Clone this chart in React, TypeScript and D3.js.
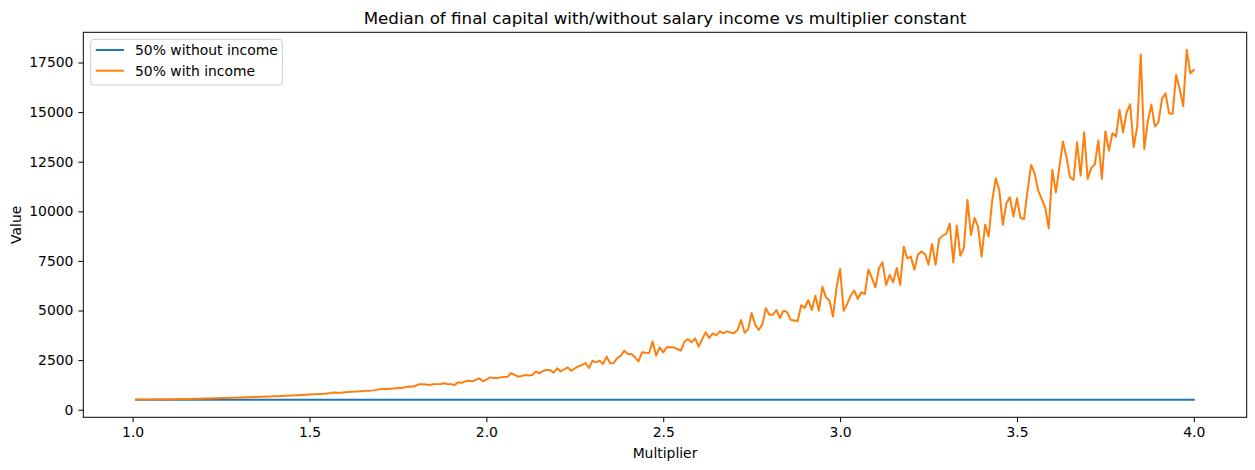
import * as d3 from "d3";
import { useEffect, useRef } from "react";

// x grid: multiplier constant 1.01 .. 4.00 in steps of 0.01
const multipliers = d3.range(101, 401).map((v) => v / 100);

// median final capital, with salary income
const withIncome = [
  510, 512, 515, 514, 518, 520, 522, 521, 525, 528,
  530, 533, 536, 538, 541, 545, 548, 552, 556, 560,
  565, 570, 574, 580, 586, 590, 596, 601, 607, 613,
  620, 626, 632, 640, 645, 652, 658, 662, 668, 676,
  684, 692, 700, 708, 716, 724, 734, 744, 756, 766,
  776, 786, 798, 806, 818, 840, 870, 850, 860, 880,
  890, 900, 912, 926, 935, 950, 960, 975, 1000, 1040,
  1040, 1045, 1060, 1075, 1090, 1100, 1130, 1165, 1160, 1210,
  1290, 1280, 1270, 1250, 1280, 1290, 1300, 1330, 1300, 1290,
  1245, 1380, 1350, 1430, 1460, 1430, 1500, 1580, 1430, 1520,
  1630, 1600, 1600, 1630, 1650, 1664, 1849, 1760, 1664, 1700,
  1748, 1720, 1748, 1933, 1832, 1950, 2000, 2000, 1866, 2084,
  1933, 2030, 2135, 1967, 2080, 2185, 2250, 2353, 2101, 2471,
  2390, 2471, 2303, 2673, 2336, 2350, 2605, 2720, 2975, 2810,
  2807, 2640, 2437, 2891, 2870, 2857, 3442, 2723, 3143, 2891,
  3143, 3143, 3143, 3060, 2975, 3429, 3564, 3395, 3597, 3177,
  3550, 3899, 3614, 3850, 3748, 3950, 3850, 3950, 3900, 3850,
  4017, 4522, 3883, 4051, 4875, 4287, 4017, 4287, 5110, 4791,
  4791, 5026, 4623, 4993, 4926, 4538, 4500, 4455, 5261, 5127,
  5530, 5026, 5749, 4993, 6203, 5665, 5497, 4690, 6170, 7096,
  4993, 5330, 5749, 6001, 5581, 5917, 5833, 7060, 6640, 6170,
  7144, 7430, 6288, 6792, 6421, 7144, 6288, 8220, 7631, 7716,
  7060, 7817, 7968, 7850, 7312, 8354, 7312, 8606, 8775, 8859,
  9380, 7430, 9279, 7766, 8153, 10575, 8808, 9665, 9229, 7716,
  9330, 8724, 10540, 11664, 11076, 9314, 10406, 10708, 9733, 10658,
  9665, 9615, 11044, 12340, 11917, 11044, 10624, 10171, 9145, 12088,
  10960, 12240, 13515, 12723, 11715, 11580, 13481, 11800, 13985, 11631,
  12189, 12355, 13565, 11631, 14035, 13061, 13935, 13767, 15114, 13985,
  14993, 15400, 13228, 14272, 17903, 13145, 14540, 15381, 14272, 14490,
  15669, 15951, 14943, 14909, 16879, 16174, 15297, 18141, 16963, 17130,
];

// median final capital, without income (flat at the starting capital)
const withoutIncome = [
  500, 500, 500, 500, 500, 500, 500, 500, 500, 500,
  500, 500, 500, 500, 500, 500, 500, 500, 500, 500,
  500, 500, 500, 500, 500, 500, 500, 500, 500, 500,
  500, 500, 500, 500, 500, 500, 500, 500, 500, 500,
  500, 500, 500, 500, 500, 500, 500, 500, 500, 500,
  500, 500, 500, 500, 500, 500, 500, 500, 500, 500,
  500, 500, 500, 500, 500, 500, 500, 500, 500, 500,
  500, 500, 500, 500, 500, 500, 500, 500, 500, 500,
  500, 500, 500, 500, 500, 500, 500, 500, 500, 500,
  500, 500, 500, 500, 500, 500, 500, 500, 500, 500,
  500, 500, 500, 500, 500, 500, 500, 500, 500, 500,
  500, 500, 500, 500, 500, 500, 500, 500, 500, 500,
  500, 500, 500, 500, 500, 500, 500, 500, 500, 500,
  500, 500, 500, 500, 500, 500, 500, 500, 500, 500,
  500, 500, 500, 500, 500, 500, 500, 500, 500, 500,
  500, 500, 500, 500, 500, 500, 500, 500, 500, 500,
  500, 500, 500, 500, 500, 500, 500, 500, 500, 500,
  500, 500, 500, 500, 500, 500, 500, 500, 500, 500,
  500, 500, 500, 500, 500, 500, 500, 500, 500, 500,
  500, 500, 500, 500, 500, 500, 500, 500, 500, 500,
  500, 500, 500, 500, 500, 500, 500, 500, 500, 500,
  500, 500, 500, 500, 500, 500, 500, 500, 500, 500,
  500, 500, 500, 500, 500, 500, 500, 500, 500, 500,
  500, 500, 500, 500, 500, 500, 500, 500, 500, 500,
  500, 500, 500, 500, 500, 500, 500, 500, 500, 500,
  500, 500, 500, 500, 500, 500, 500, 500, 500, 500,
  500, 500, 500, 500, 500, 500, 500, 500, 500, 500,
  500, 500, 500, 500, 500, 500, 500, 500, 500, 500,
  500, 500, 500, 500, 500, 500, 500, 500, 500, 500,
  500, 500, 500, 500, 500, 500, 500, 500, 500, 500,
];

const xTicks = [1.0, 1.5, 2.0, 2.5, 3.0, 3.5, 4.0];
const yTicks = [0, 2500, 5000, 7500, 10000, 12500, 15000, 17500];
const labels = ["50% without income", "50% with income"];
const colors = ["#1f77b4", "#ff7f0e"];

const title =
  "Median of final capital with/without salary income vs multiplier constant";

const W = 1255;
const H = 470;
const FONT = "'DejaVu Sans', sans-serif";
const FS = 13.9; // 10pt at 100dpi
const TITLE_FS = 16.7; // 12pt

export default function App() {
  const ref = useRef<SVGSVGElement>(null);

  useEffect(() => {
    document.body.style.margin = "0";

    const margin = { top: 32.3, right: W - 1246.7, bottom: H - 417.3, left: 83.3 };
    const width = W - margin.left - margin.right;
    const height = H - margin.top - margin.bottom;

    // matplotlib-like 5% padding around the data
    const [x0, x1] = d3.extent(multipliers) as [number, number];
    const xPad = (x1 - x0) * 0.05;
    const [y0, y1] = d3.extent([...withIncome, ...withoutIncome]) as [number, number];
    const yPad = (y1 - y0) * 0.05;

    const xScale = d3.scaleLinear().domain([x0 - xPad, x1 + xPad]).range([0, width]);
    const yScale = d3.scaleLinear().domain([y0 - yPad, y1 + yPad]).range([height, 0]);

    const svg = d3.select(ref.current);
    svg.selectAll("*").remove();

    svg
      .append("text")
      .attr("x", margin.left + width / 2)
      .attr("y", 24)
      .attr("text-anchor", "middle")
      .attr("font-family", FONT)
      .attr("font-size", TITLE_FS)
      .attr("fill", "#000")
      .text(title);

    const g = svg
      .append("g")
      .attr("transform", `translate(${margin.left},${margin.top})`);

    // axes
    const xAxis = d3
      .axisBottom(xScale)
      .tickValues(xTicks)
      .tickFormat((d) => d3.format(".1f")(d as number))
      .tickSizeOuter(0)
      .tickSize(4.9)
      .tickPadding(5);
    const yAxis = d3
      .axisLeft(yScale)
      .tickValues(yTicks)
      .tickFormat((d) => String(d))
      .tickSizeOuter(0)
      .tickSize(4.9)
      .tickPadding(5);

    const gx = g.append("g").attr("transform", `translate(0,${height})`).call(xAxis);
    const gy = g.append("g").call(yAxis);
    [gx, gy].forEach((a) => {
      a.select(".domain").remove();
      a.selectAll("line").attr("stroke", "#000").attr("stroke-width", 1);
      a.selectAll("text")
        .attr("font-family", FONT)
        .attr("font-size", FS)
        .attr("fill", "#000");
    });

    const lineGenerator = d3
      .line<number>()
      .x((_, i) => xScale(multipliers[i]))
      .y((d) => yScale(d));

    const appendPath = (values: number[], color: string) => {
      g.append("path")
        .datum(values)
        .attr("fill", "none")
        .attr("stroke", color)
        .attr("stroke-width", 2)
        .attr("stroke-linejoin", "round")
        .attr("stroke-linecap", "square")
        .attr("d", lineGenerator);
    };
    appendPath(withoutIncome, colors[0]);
    appendPath(withIncome, colors[1]);

    // frame
    g.append("rect")
      .attr("width", width)
      .attr("height", height)
      .attr("fill", "none")
      .attr("stroke", "#000")
      .attr("stroke-width", 1);

    // axis labels
    svg
      .append("text")
      .attr("x", margin.left + width / 2)
      .attr("y", 458)
      .attr("text-anchor", "middle")
      .attr("font-family", FONT)
      .attr("font-size", FS)
      .text("Multiplier");
    svg
      .append("text")
      .attr("transform", `translate(21,${margin.top + height / 2}) rotate(-90)`)
      .attr("text-anchor", "middle")
      .attr("font-family", FONT)
      .attr("font-size", FS)
      .text("Value");

    // legend
    const legend = svg.append("g").attr("transform", "translate(90.7,39.3)");
    legend
      .append("rect")
      .attr("width", 191.6)
      .attr("height", 45.7)
      .attr("rx", 3)
      .attr("fill", "#fff")
      .attr("fill-opacity", 0.8)
      .attr("stroke", "#cccccc")
      .attr("stroke-width", 1);
    labels.forEach((label, i) => {
      legend
        .append("line")
        .attr("x1", 5)
        .attr("x2", 33.3)
        .attr("y1", 10.7 + i * 20.7)
        .attr("y2", 10.7 + i * 20.7)
        .attr("stroke", colors[i])
        .attr("stroke-width", 2);
      legend
        .append("text")
        .attr("x", 44.3)
        .attr("y", 15.8 + i * 20.7)
        .attr("font-family", FONT)
        .attr("font-size", FS)
        .text(label);
    });
  }, []);

  return <svg ref={ref} width={W} height={H} style={{ display: "block" }}></svg>;
}
